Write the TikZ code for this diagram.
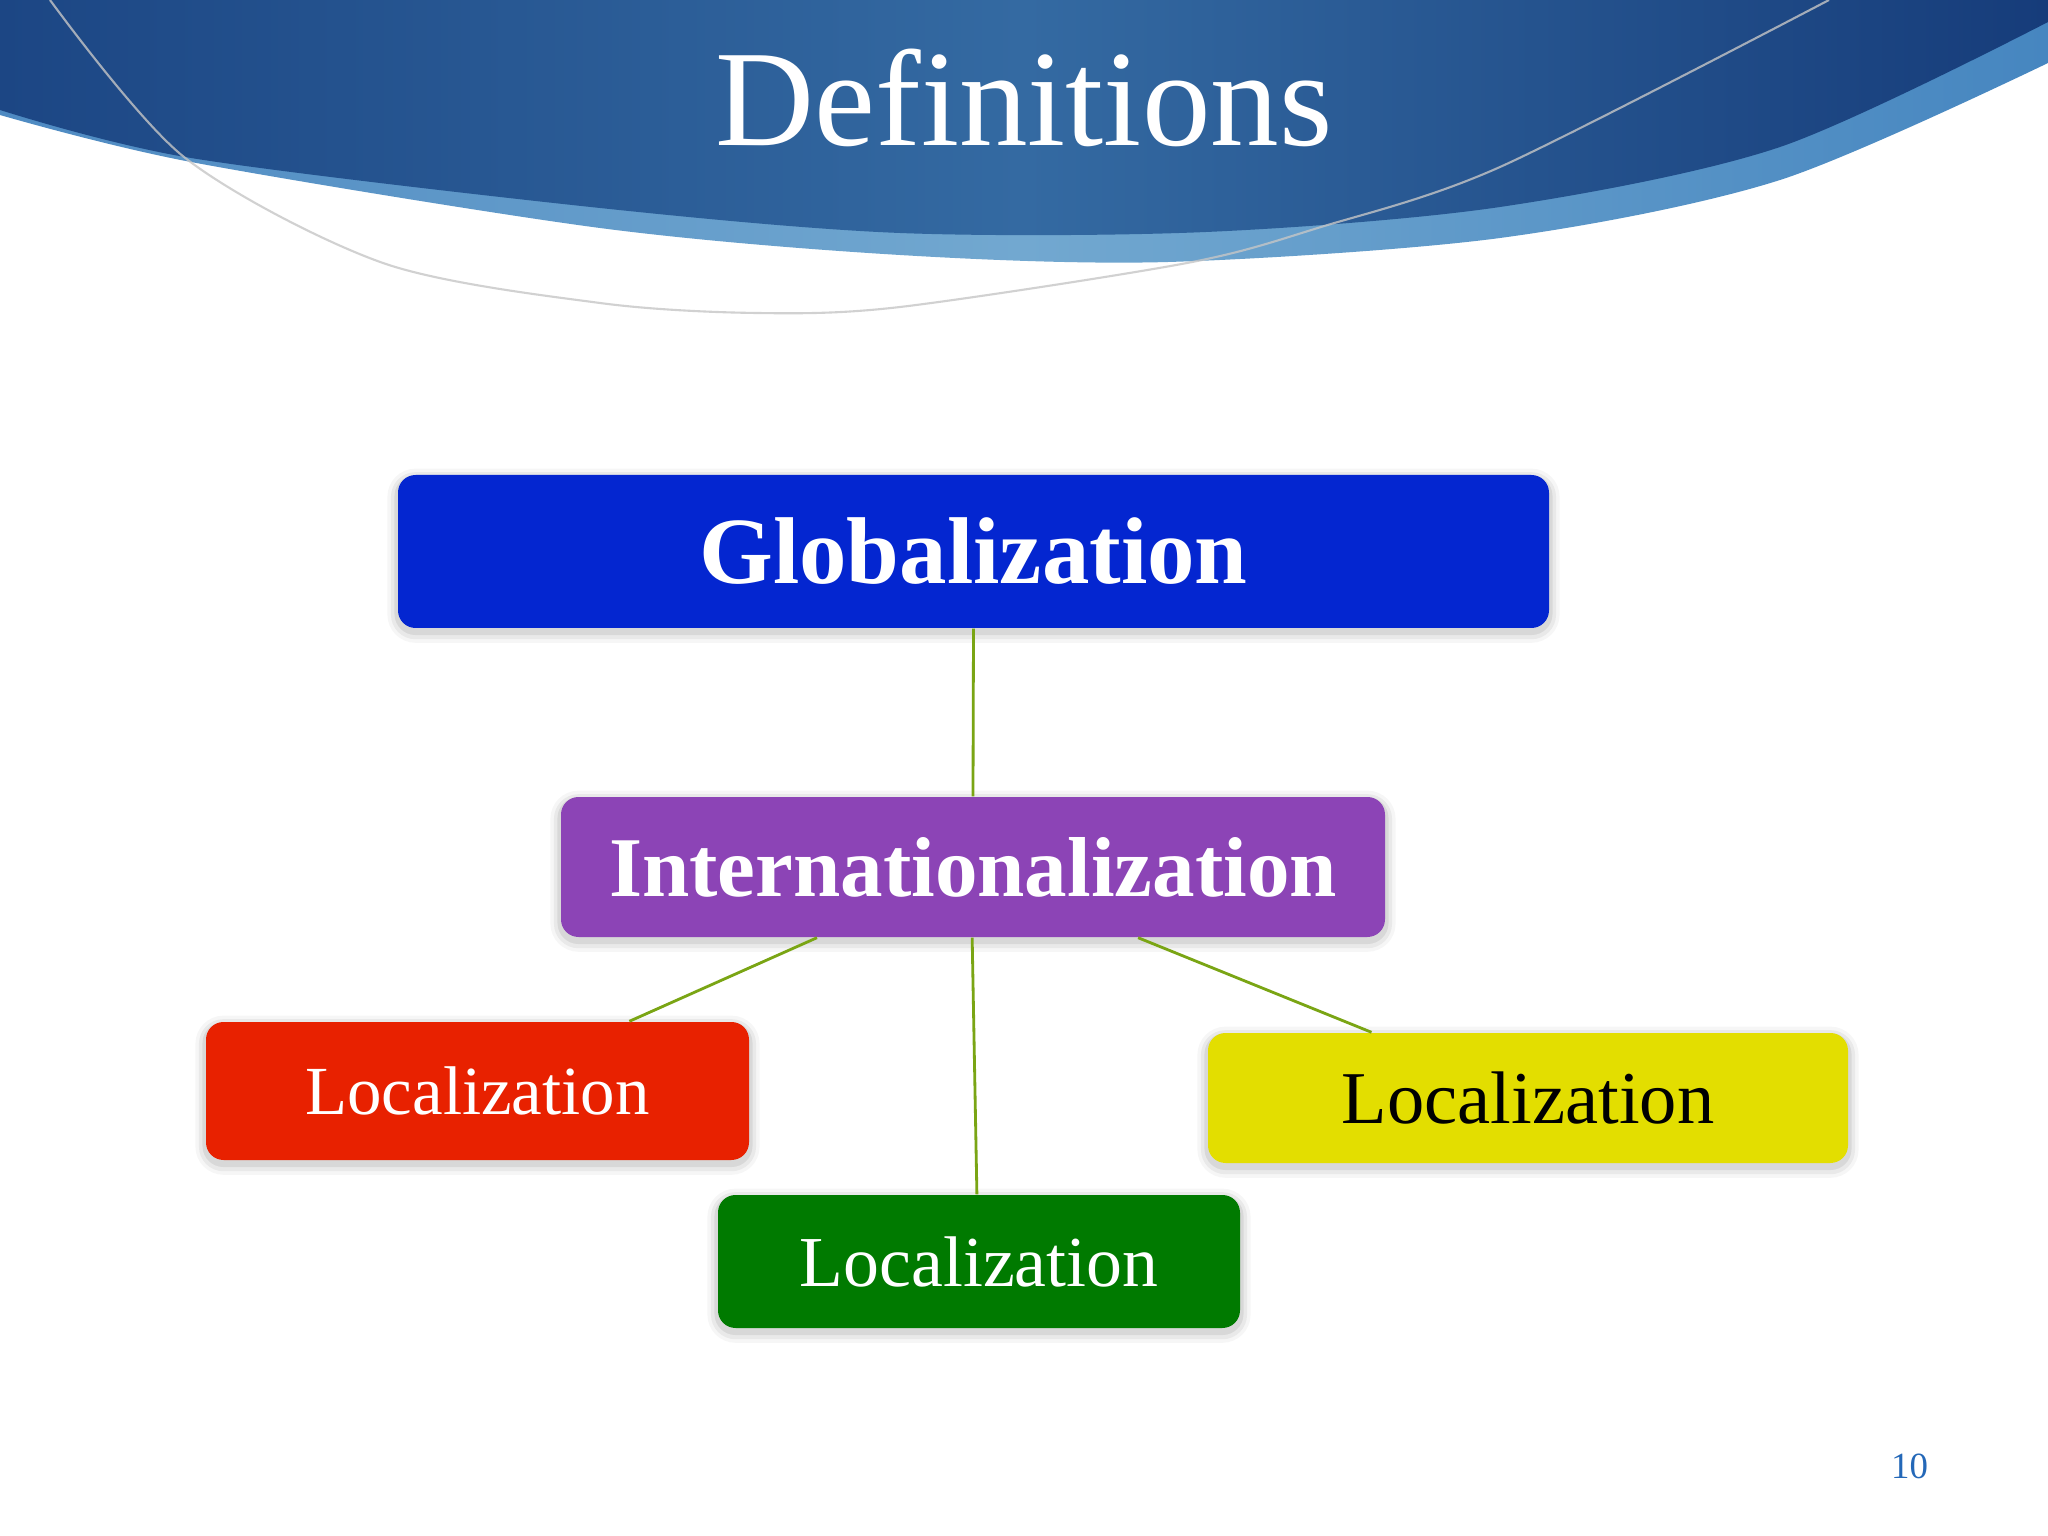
\documentclass[tikz,border=0pt]{standalone}
\usepackage{fontspec}
\setmainfont{Liberation Serif}
\usetikzlibrary{calc}
\definecolor{bandDarkL}{RGB}{28,70,132}
\definecolor{bandDarkM}{RGB}{52,106,162}
\definecolor{bandDarkR}{RGB}{22,60,122}
\definecolor{bandLightL}{RGB}{78,138,194}
\definecolor{bandLightM}{RGB}{114,168,208}
\definecolor{bandLightR}{RGB}{70,134,192}
\definecolor{globBlue}{RGB}{4,38,208}
\definecolor{intlPurple}{RGB}{140,68,182}
\definecolor{locRed}{RGB}{232,33,0}
\definecolor{locYellow}{RGB}{227,222,0}
\definecolor{locGreen}{RGB}{0,122,0}
\definecolor{connGreen}{RGB}{122,165,20}
\definecolor{pageBlue}{RGB}{36,104,184}
\tikzset{
  box/.style={rectangle, rounded corners=5pt, inner sep=0pt, draw=none,
    preaction={draw=black, line width=6pt, draw opacity=0.035, transform canvas={yshift=-1.2pt}},
    preaction={draw=black, line width=4pt, draw opacity=0.05, transform canvas={yshift=-1.2pt}},
    preaction={draw=black, line width=2pt, draw opacity=0.07, transform canvas={yshift=-1pt}}},
  conn/.style={draw=connGreen, line width=0.8pt},
}
\begin{document}
\begin{tikzpicture}[x=1cm,y=1cm]
\useasboundingbox (0,0) rectangle (20.48,-15.36);
\fill[white] (0,0) rectangle (20.48,-15.36);
% header light band
\shade[left color=bandLightL, right color=bandLightR, middle color=bandLightM]
  (0,0) -- plot[smooth] coordinates {(0,-1.15) (1.91,-1.62) (6.00,-2.28) (9.00,-2.55) (11.68,-2.62) (15.00,-2.38) (17.80,-1.80) (20.48,-0.63)} -- (20.48,0) -- cycle;
% header dark part
\shade[left color=bandDarkL, right color=bandDarkR, middle color=bandDarkM]
  (0,0) -- plot[smooth] coordinates {(0,-1.10) (1.91,-1.58) (6.00,-2.08) (9.00,-2.33) (12.06,-2.32) (15.00,-2.07) (17.80,-1.47) (20.48,-0.22)} -- (20.48,0) -- cycle;
% thin grey curve
\draw[gray!45, line width=0.6pt, opacity=0.8]
  plot[smooth] coordinates {(0.50,0) (1.84,-1.57) (3.83,-2.63) (6.00,-3.03) (7.57,-3.13) (9.00,-3.07) (11.87,-2.63) (13.21,-2.27) (15.00,-1.67) (18.29,0)};
% title
\node[anchor=base, text=white, font=\fontsize{39}{44}\selectfont] (title) at (10.24,-1.46) {Definitions};
% boxes
\node[box, fill=globBlue, minimum width=11.51cm, minimum height=1.53cm, text=white,
  font=\fontsize{27}{30}\selectfont\bfseries] (glob) at (9.735,-5.515) {Globalization};
\node[box, fill=intlPurple, minimum width=8.24cm, minimum height=1.40cm, text=white,
  font=\fontsize{24.2}{28}\selectfont\bfseries] (intl) at (9.73,-8.67) {Internationalization};
\node[box, fill=locRed, minimum width=5.43cm, minimum height=1.38cm, text=white,
  font=\fontsize{19.6}{24}\selectfont] (red) at (4.775,-10.91) {Localization};
\node[box, fill=locYellow, minimum width=6.40cm, minimum height=1.30cm, text=black,
  font=\fontsize{21.2}{25}\selectfont] (yellow) at (15.28,-10.98) {Localization};
\node[box, fill=locGreen, minimum width=5.22cm, minimum height=1.33cm, text=white,
  font=\fontsize{20.4}{24}\selectfont] (green) at (9.79,-12.615) {Localization};
% connectors
\draw[conn] (glob.south) -- (intl.north);
\draw[conn] ($(intl.south west)!0.311!(intl.south east)$) -- ($(red.north west)!0.779!(red.north east)$);
\draw[conn] ($(intl.south west)!0.499!(intl.south east)$) -- ($(green.north west)!0.496!(green.north east)$);
\draw[conn] ($(intl.south west)!0.700!(intl.south east)$) -- ($(yellow.north west)!0.256!(yellow.north east)$);
% page number
\node[anchor=base, text=pageBlue, font=\fontsize{10.5}{12}\selectfont] (pagenum) at (19.095,-14.78) {10};
\end{tikzpicture}
\end{document}
